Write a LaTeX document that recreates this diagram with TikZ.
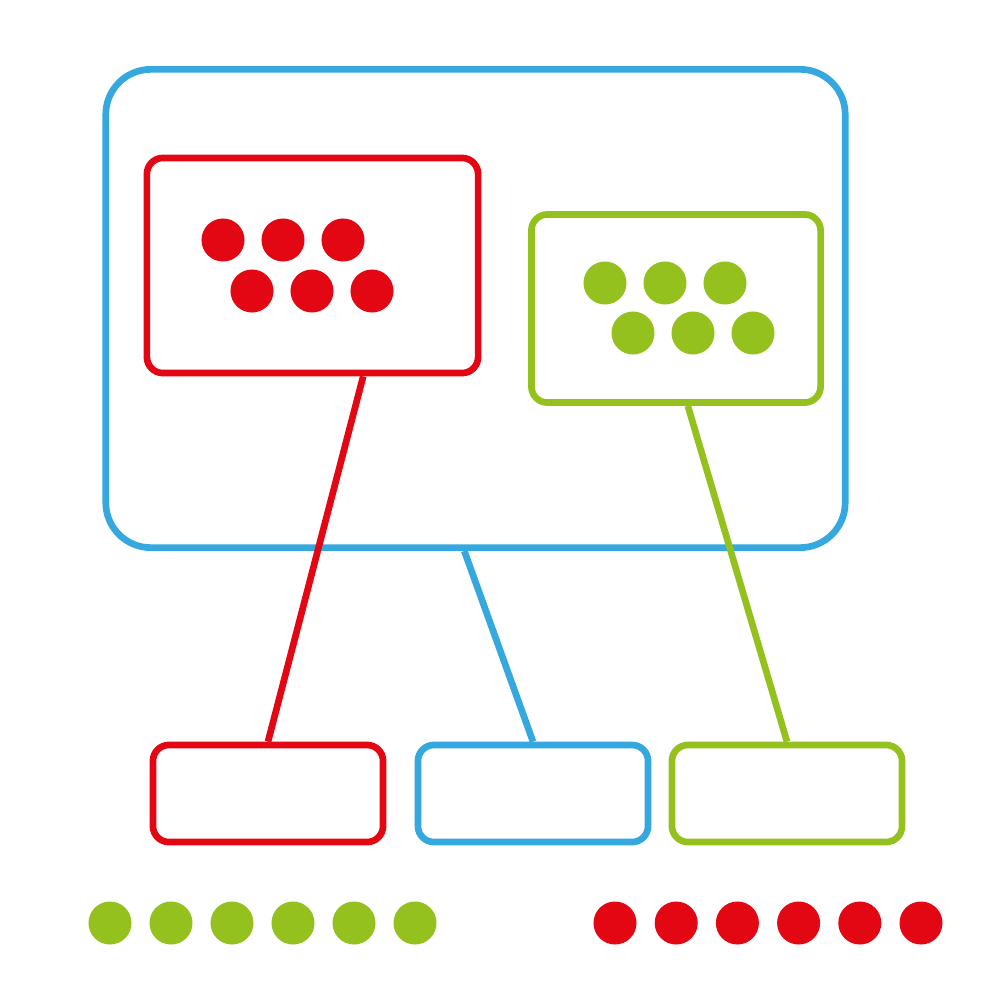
\documentclass[tikz,border=0pt]{standalone}
\usepackage{tikz}
\usetikzlibrary{calc}

\definecolor{netred}{HTML}{E30613}
\definecolor{netblue}{HTML}{35A8E0}
\definecolor{netgreen}{HTML}{95C11F}

\begin{document}
\begin{tikzpicture}
    [x=0.01cm, y=-0.01cm,
     box/.style={draw, line width=1.9pt, rounded corners=0.16cm, inner sep=0pt},
     dot/.style={circle, fill, inner sep=0pt, minimum size=0.43cm},
     link/.style={line width=1.9pt}]
    \useasboundingbox (0,0) rectangle (1000,1000);
    \node[box, netblue, rounded corners=0.45cm, minimum width=7.39cm, minimum height=4.78cm] (screen) at (475.5, 308.5) {};
    \node[box, netred, minimum width=3.31cm, minimum height=2.15cm] (redbox) at (312.5, 265.5) {};
    \node[box, netgreen, minimum width=2.89cm, minimum height=1.88cm] (greenbox) at (676, 308.5) {};
    \foreach \i in {0,1,2} {
      \node[dot, netred] (r\i) at (223+60*\i, 240) {};
      \node[dot, netred] (rr\i) at (252+60*\i, 291) {};
      \node[dot, netgreen] (g\i) at (605+60*\i, 283) {};
      \node[dot, netgreen] (gg\i) at (633+60*\i, 333) {};
    }
    \node[box, netred, minimum width=2.3cm, minimum height=0.97cm] (out1) at (268, 793.5) {};
    \node[box, netblue, minimum width=2.3cm, minimum height=0.97cm] (out2) at (533, 793.5) {};
    \node[box, netgreen, minimum width=2.3cm, minimum height=0.97cm] (out3) at (787, 793.5) {};
    \draw[link, netred] ($(redbox.south west)!0.65!(redbox.south east)$) -- (out1.north);
    \draw[link, netblue] ($(screen.south west)!0.485!(screen.south east)$) -- (out2.north);
    \draw[link, netgreen] ($(greenbox.south west)!0.54!(greenbox.south east)$) -- (out3.north);
    \foreach \i in {0,...,5} {
      \node[dot, netgreen] (gd\i) at (110+61*\i, 923) {};
      \node[dot, netred] (rd\i) at (615+61.2*\i, 923) {};
    }
  \end{tikzpicture}
\end{document}
